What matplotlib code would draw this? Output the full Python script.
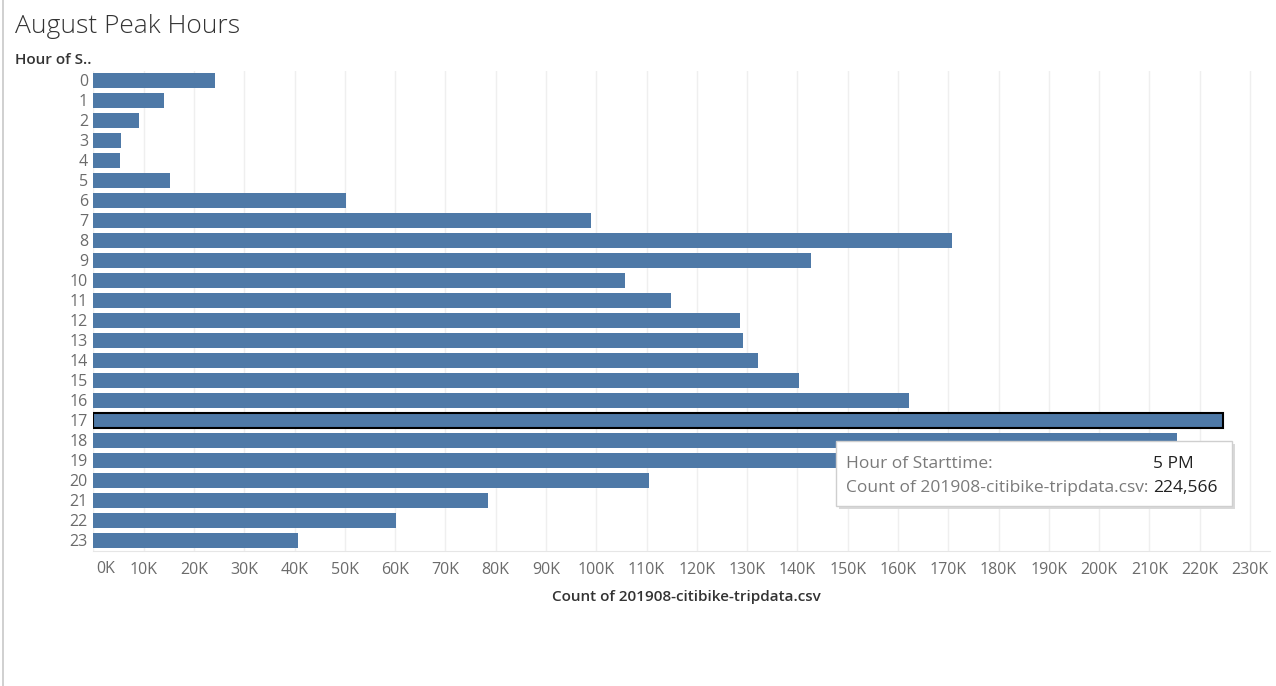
import matplotlib
matplotlib.use("Agg")
import matplotlib.pyplot as plt
from matplotlib.patches import Rectangle
from matplotlib.lines import Line2D
from matplotlib.ticker import FuncFormatter, MultipleLocator
from matplotlib.transforms import blended_transform_factory, ScaledTranslation

hours = list(range(24))
hour_labels = [str(h) for h in hours]
counts = [24150, 14000, 9000, 5400, 5200, 15300, 50200, 98900, 170700, 142700,
          105700, 114800, 128600, 129200, 132100, 140300, 162200, 224566, 215600, 155000,
          110400, 78400, 60100, 40700]
highlight = 17
title = "August Peak Hours"
y_title = "Hour of S.."
x_title = "Count of 201908-citibike-tripdata.csv"
tip_labels = ["Hour of Starttime:", "Count of 201908-citibike-tripdata.csv:"]

W, H = 1276, 686
fig = plt.figure(figsize=(W / 100, H / 100), dpi=100)
fig.patch.set_facecolor("white")

def fx(px):
    return px / W

def fy(py):
    return 1 - py / H

FONT = "Open Sans"
ax = fig.add_axes([fx(93.5), fy(550.5), fx(1270) - fx(93.5), fy(70.5) - fy(550.5)])
bar_color = "#4e79a7"
edges = ["black" if i == highlight else bar_color for i in range(len(hours))]
lws = [1.5 if i == highlight else 0 for i in range(len(hours))]
ax.barh(hours, counts, height=0.72, color=bar_color, edgecolor=edges, linewidth=lws, zorder=3)
ax.set_ylim(len(hours) - 0.5, -0.5)
ax.set_xlim(0, 234000)
ax.set_yticks(hours)
ax.set_yticklabels(hour_labels)
ax.xaxis.set_major_locator(MultipleLocator(10000))
ax.xaxis.set_major_formatter(FuncFormatter(lambda v, p: "" if abs(v) < 1 else f"{int(round(v / 1000))}K"))
ax.grid(axis="x", color="#efefef", linewidth=1, zorder=0)
ax.set_axisbelow(True)
for s in ["top", "right", "left"]:
    ax.spines[s].set_visible(False)
ax.spines["bottom"].set_color("#e6e6e6")
ax.tick_params(axis="both", length=0, labelsize=11.5, labelcolor="#6b6b6b")
ax.tick_params(axis="x", pad=8)
ax.tick_params(axis="y", pad=4)
for lab in ax.get_xticklabels() + ax.get_yticklabels():
    lab.set_fontfamily(FONT)

# first x tick label, shifted right as in the reference
tr = blended_transform_factory(ax.transData, fig.transFigure)
ax.text(0, fy(573), "0K", transform=tr + ScaledTranslation(3 / 100, 0, fig.dpi_scale_trans),
        fontsize=11.5, color="#6b6b6b", family=FONT, ha="left", va="baseline", clip_on=False)

fig.text(fx(15), fy(33), title, fontsize=19, color="#333333", family=FONT,
         weight="light", va="baseline", ha="left")
fig.text(fx(15), fy(64), y_title, fontsize=11, color="#333333", family=FONT,
         weight="semibold", va="baseline", ha="left")
fig.text(fx(686), fy(601), x_title, fontsize=11, color="#333333", family=FONT,
         weight="semibold", va="baseline", ha="center")

# left border
fig.add_artist(Line2D([fx(3), fx(3)], [0, 1], color="#c8c8c8", linewidth=1.2))

# tooltip
x0, y0, x1, y1 = 836, 441, 1232, 506
fig.add_artist(Rectangle((fx(x0 + 3), fy(y1 + 3)), fx(x1 - x0), fy(y0) - fy(y1),
                         facecolor="#d9d9d9", edgecolor="none", zorder=9))
fig.add_artist(Rectangle((fx(x0), fy(y1)), fx(x1 - x0), fy(y0) - fy(y1),
                         facecolor="white", edgecolor="#cfcfcf", linewidth=1, zorder=10))
fig.text(fx(846), fy(468), tip_labels[0], fontsize=12.5, color="#7a7a7a", family=FONT,
         va="baseline", ha="left", zorder=11)
fig.text(fx(846), fy(492.5), tip_labels[1], fontsize=12.5, color="#7a7a7a", family=FONT,
         va="baseline", ha="left", zorder=11)
h = hours[highlight]
hour_txt = f"{(h % 12) or 12} {'AM' if h < 12 else 'PM'}"
fig.text(fx(1153), fy(468), hour_txt, fontsize=12.5, color="#222222", family=FONT,
         va="baseline", ha="left", zorder=11)
fig.text(fx(1153), fy(492.5), f"{counts[highlight]:,}", fontsize=12.5, color="#222222",
         family=FONT, va="baseline", ha="left", zorder=11)

fig.savefig("out.png", dpi=100)
